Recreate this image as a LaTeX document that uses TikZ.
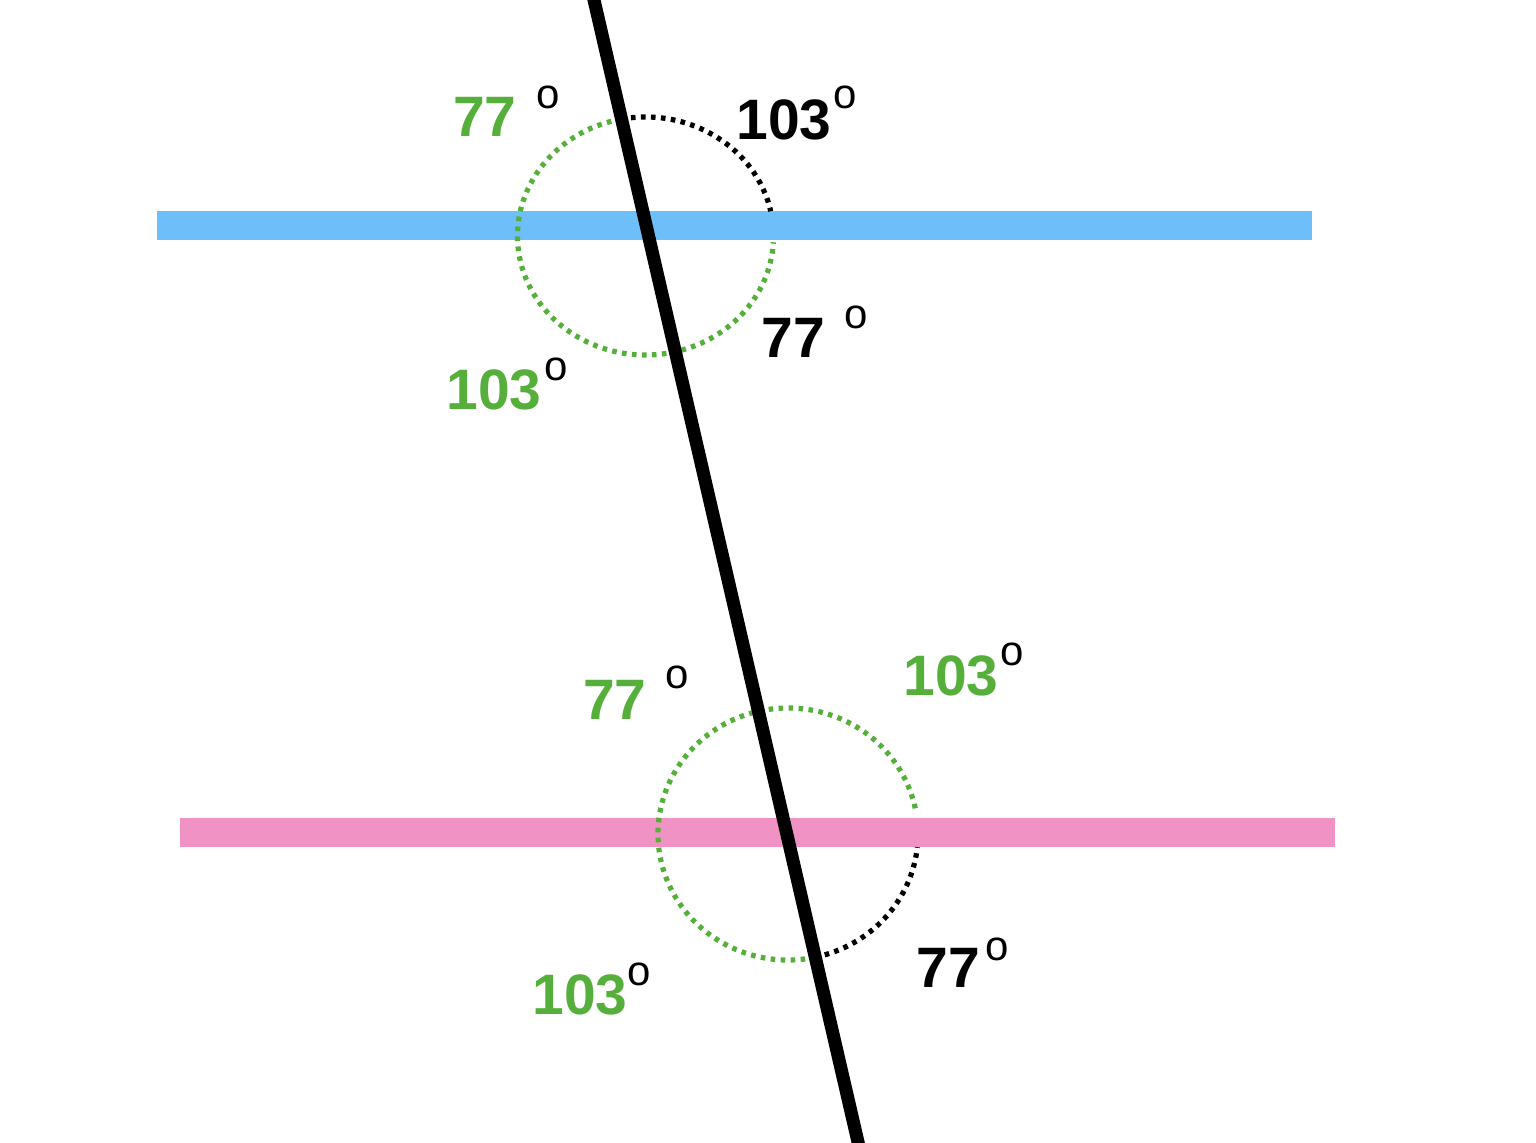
\documentclass[tikz,border=0pt]{standalone}
\usepackage{fontspec}
\setmainfont{Liberation Sans}
\definecolor{angGreen}{RGB}{86,175,58}
\definecolor{barBlue}{RGB}{110,190,250}
\definecolor{barPink}{RGB}{240,147,196}
\tikzset{
  num/.style={inner sep=0pt, font=\bfseries\fontsize{28.5}{28.5}\selectfont},
  degsign/.style={inner sep=0pt, text=black, font=\fontsize{21}{21}\selectfont},
  dotarc/.style={line width=2.6pt, dash pattern=on 2.3pt off 2.7pt},
  bar/.style={line width=14.5pt},
}
\begin{document}
\begin{tikzpicture}[x=0.5pt,y=0.5pt]
\useasboundingbox (0,0) rectangle (1536,1142);
\clip (0,0) rectangle (1536,1142);
% coordinates
\coordinate (B1) at (157,916.5);
\coordinate (B2) at (1312,916.5);
\coordinate (P1) at (180,309.5);
\coordinate (P2) at (1335,309.5);
\coordinate (T1) at (591,1155);
\coordinate (T2) at (861,-13);
\coordinate (C1) at (645.5,906);
\coordinate (C2) at (788,308);
% bars
\draw[bar, barBlue] (B1) -- (B2);
\draw[bar, barPink] (P1) -- (P2);
% upper dotted circle
\draw[dotarc, black] (C1) ++(101:64pt and 59.5pt) arc[start angle=101, end angle=12, x radius=64pt, y radius=59.5pt];
\draw[dotarc, angGreen] (C1) ++(101:64pt and 59.5pt) arc[start angle=101, end angle=357, x radius=64pt, y radius=59.5pt];
% lower dotted circle
\draw[dotarc, black] (C2) ++(-78:65pt and 63pt) arc[start angle=-78, end angle=-6, x radius=65pt, y radius=63pt];
\draw[dotarc, angGreen] (C2) ++(-78:65pt and 63pt) arc[start angle=-78, end angle=-349, x radius=65pt, y radius=63pt];
% transversal
\draw[line width=6.5pt, black] (T1) -- (T2);
% labels upper
\node[num, text=angGreen] (a1) at (485,1025) {77};
\node[degsign] (d1) at (548,1045) {o};
\node[num, text=black] (a2) at (784,1022) {103};
\node[degsign] (d2) at (845,1045) {o};
\node[num, text=black] (a3) at (793,804) {77};
\node[degsign] (d3) at (856,825) {o};
\node[num, text=angGreen] (a4) at (494,752) {103};
\node[degsign] (d4) at (556,773) {o};
% labels lower
\node[num, text=angGreen] (a5) at (615,442) {77};
\node[degsign] (d5) at (677,465) {o};
\node[num, text=angGreen] (a6) at (951,466) {103};
\node[degsign] (d6) at (1012,488) {o};
\node[num, text=black] (a7) at (948,174) {77};
\node[degsign] (d7) at (997,193) {o};
\node[num, text=angGreen] (a8) at (580,147) {103};
\node[degsign] (d8) at (639,168) {o};
\end{tikzpicture}
\end{document}
